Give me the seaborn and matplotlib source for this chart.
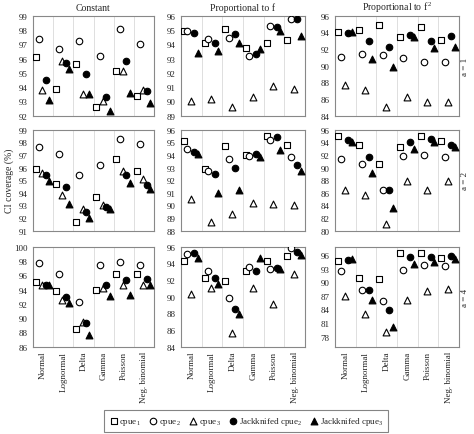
import numpy as np
import pandas as pd
import matplotlib
matplotlib.use("Agg")
import matplotlib.pyplot as plt
import seaborn as sns

categories = ["Normal", "Lognormal", "Delta", "Gamma", "Poisson", "Neg. binomial"]
series = ["cpue$_1$", "cpue$_2$", "cpue$_3$", "Jackknifed cpue$_2$", "Jackknifed cpue$_3$"]
col_titles = ["Constant", "Proportional to f", "Proportional to f$^{\\,2}$"]
row_labels = ["a = 1", "a = 2", "a = 4"]

# values: rows = series (cpue1, cpue2, cpue3, jk cpue2, jk cpue3), cols = categories
constant_a1 = [[96.1, 93.9, 95.6, 92.6, 95.1, 93.4],
               [97.4, 96.7, 97.2, 96.2, 98.1, 97.0],
               [93.8, 95.8, 93.5, 93.0, 95.1, 93.8],
               [94.5, 95.7, 94.9, 93.3, 95.8, 93.7],
               [93.1, 95.3, 93.5, 92.3, 93.6, 92.9]]
propf_a1 = [[94.9, 94.1, 95.1, 93.75, 94.1, 94.3],
            [94.9, 94.35, 94.45, 93.2, 95.3, 95.8],
            [90.0, 90.2, 89.6, 90.3, 91.1, 90.9],
            [94.8, 94.1, 94.7, 93.3, 95.2, 95.8],
            [93.4, 93.5, 94.1, 93.65, 94.9, 94.6]]
propf2_a1 = [[94.0, 94.3, 94.9, 93.5, 94.6, 93.1],
             [91.0, 91.4, 91.3, 90.9, 90.5, 90.4],
             [87.7, 87.1, 85.0, 86.2, 85.6, 85.6],
             [93.9, 93.0, 92.2, 93.7, 93.0, 93.6],
             [94.0, 90.8, 89.9, 93.5, 92.1, 92.2]]
constant_a2 = [[95.9, 94.7, 91.7, 93.7, 96.7, 95.7],
               [97.6, 97.1, 95.4, 96.2, 98.3, 97.9],
               [95.6, 93.8, 92.7, 93.0, 95.7, 95.1],
               [95.4, 94.5, 92.5, 92.9, 95.4, 94.6],
               [94.9, 93.1, 92.0, 92.7, 94.8, 94.3]]
propf_a2 = [[95.1, 92.9, 94.7, 94.0, 95.5, 94.8],
            [94.5, 92.7, 93.7, 93.9, 95.2, 93.8],
            [90.5, 88.7, 89.3, 90.2, 90.1, 90.0],
            [94.2, 92.5, 93.0, 94.1, 95.4, 93.2],
            [94.1, 91.0, 91.2, 93.8, 94.4, 92.7]]
propf2_a2 = [[95.0, 93.5, 90.6, 93.2, 95.0, 94.2],
             [91.4, 90.6, 86.5, 91.9, 92.0, 91.6],
             [86.5, 85.6, 81.0, 87.8, 86.5, 87.8],
             [94.4, 91.7, 86.5, 94.1, 94.6, 93.5],
             [94.1, 89.2, 83.6, 93.0, 94.0, 93.2]]
constant_a4 = [[95.1, 93.8, 88.5, 94.0, 96.2, 96.2],
               [97.7, 96.2, 92.3, 97.4, 97.9, 97.5],
               [94.7, 92.6, 89.4, 94.2, 94.7, 94.6],
               [94.7, 92.9, 89.3, 94.7, 95.4, 95.5],
               [94.7, 92.1, 87.6, 93.1, 93.3, 94.6]]
propf_a4 = [[94.3, 92.3, 91.9, 93.1, 94.3, 94.9],
            [95.1, 93.1, 89.9, 93.6, 93.3, 95.8],
            [90.3, 91.1, 85.6, 91.0, 89.1, 92.7],
            [95.2, 92.3, 88.5, 93.1, 93.4, 95.4],
            [94.7, 91.5, 87.9, 94.7, 93.3, 95.0]]
propf2_a4 = [[94.7, 91.0, 90.8, 96.4, 96.4, 95.3],
             [92.5, 88.2, 85.9, 92.7, 93.7, 93.6],
             [87.0, 83.1, 79.0, 86.1, 88.0, 88.5],
             [94.8, 88.2, 83.9, 95.6, 95.6, 95.8],
             [95.0, 86.1, 80.1, 94.1, 94.5, 95.0]]

panels = [[constant_a1, propf_a1, propf2_a1],
          [constant_a2, propf_a2, propf2_a2],
          [constant_a4, propf_a4, propf2_a4]]

# axis limits and ticks per panel
ylims = [[(92, 99), (89, 96), (84, 96)],
         [(91, 99), (88, 96), (80, 96)],
         [(86, 100), (84, 96), (75.8, 97.8)]]
yticks = [[np.arange(92, 100, 1), np.arange(89, 97, 1), np.arange(84, 97, 2)],
          [np.arange(91, 100, 1), np.arange(88, 97, 1), np.arange(80, 97, 2)],
          [np.arange(86, 101, 2), np.arange(84, 97, 2), np.arange(78, 97, 3)]]

sns.set_style("white")
plt.rcParams["font.family"] = ["Liberation Serif", "DejaVu Serif"]
plt.rcParams["mathtext.fontset"] = "custom"
plt.rcParams["mathtext.rm"] = "Liberation Serif"
plt.rcParams["mathtext.it"] = "Liberation Serif:italic"

W, H = 474, 435
fig = plt.figure(figsize=(W / 100, H / 100), dpi=100)

col_px = [(33, 154), (181, 305), (335, 459)]
row_px = [(16.7, 116.7), (130.7, 231.7), (247.7, 347.7)]

markers = ["s", "o", "^", "o", "^"]
faces = ["white", "white", "white", "black", "black"]
sizes = [18, 22, 24, 22, 24]
offsets = [0.14, 0.30, 0.46, 0.63, 0.80]

handles = None
for r in range(3):
    for c in range(3):
        x0, x1 = col_px[c]
        y0, y1 = row_px[r]
        ax = fig.add_axes([x0 / W, 1 - y1 / H, (x1 - x0) / W, (y1 - y0) / H])
        vals = panels[r][c]
        rows = []
        for si, s in enumerate(series):
            for ci, cat in enumerate(categories):
                rows.append({"series": s, "category": cat,
                             "x": ci + offsets[si], "value": vals[si][ci]})
        df = pd.DataFrame(rows)
        for si, s in enumerate(series):
            sub = df[df["series"] == s]
            sns.scatterplot(data=sub, x="x", y="value", ax=ax, marker=markers[si],
                            color=faces[si], edgecolor="black", linewidth=0.8,
                            s=sizes[si], label=s, legend=False, zorder=3)
        ax.set_xlim(0, 6)
        ax.set_ylim(*ylims[r][c])
        ax.set_yticks(yticks[r][c])
        ax.set_yticklabels([f"{int(t)}" for t in yticks[r][c]], fontsize=6.5)
        ax.set_xticks(np.arange(1, 6), minor=False)
        for gx in range(1, 6):
            ax.axvline(gx, color="#d9d9d9", lw=0.6, zorder=0)
        ax.set_xticks(np.arange(0, 7), minor=True)
        ax.set_xticks(np.arange(6) + 0.5)
        if r == 2:
            ax.set_xticklabels(categories, rotation=90, fontsize=6.5)
        else:
            ax.set_xticklabels([])
        ax.tick_params(axis="x", which="major", length=0, pad=3)
        ax.tick_params(axis="x", which="minor", length=2.5, width=0.6, color="#777777", direction="out")
        ax.tick_params(axis="y", length=2.5, width=0.6, color="#777777", direction="out", pad=1.5)
        ax.set_xlabel("")
        ax.set_ylabel("")
        for sp in ax.spines.values():
            sp.set_color("#888888")
            sp.set_linewidth(0.8)
        if r == 0:
            ax.set_title(col_titles[c], fontsize=7, pad=4)
        if c == 2:
            ax.text(1.05, 0.5, row_labels[r], transform=ax.transAxes, rotation=90,
                    ha="center", va="center", fontsize=6.5)
        if r == 1 and c == 0:
            ax.set_ylabel("CI coverage (%)", fontsize=7, labelpad=3)
        if handles is None:
            handles, labels = ax.get_legend_handles_labels()

leg = fig.legend(handles, labels, loc="center", bbox_to_anchor=(246 / W, 1 - 422 / H),
                 ncol=5, fontsize=6.5, frameon=True, fancybox=False, edgecolor="#666666",
                 handletextpad=0.1, columnspacing=0.9, borderpad=0.5, handlelength=1.0)
leg.get_frame().set_linewidth(0.8)

fig.savefig("out.png", dpi=100)
